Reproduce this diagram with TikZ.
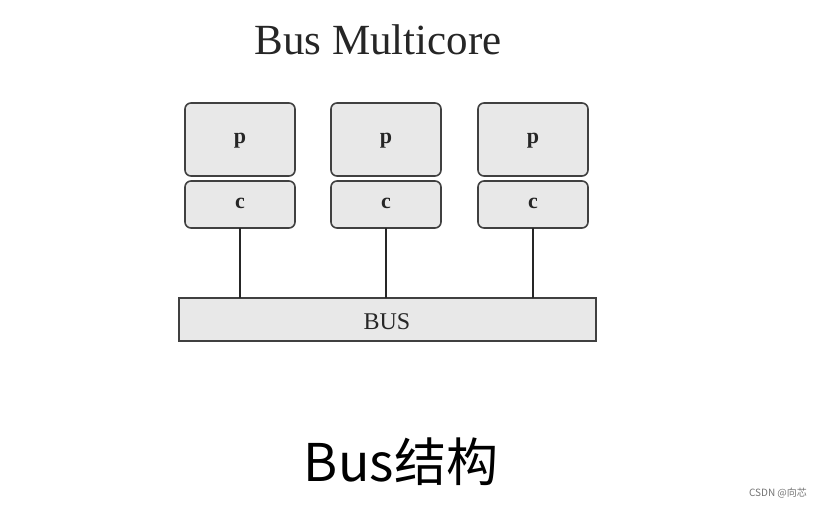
\documentclass[tikz,border=0pt]{standalone}
\usepackage{fontspec}
\setmainfont{Liberation Serif}
\newfontfamily\cjk{Noto Sans CJK SC}
\begin{document}
\begin{tikzpicture}[x=1pt,y=-1pt,
  unit/.style={draw=black!75,line width=1.6pt,fill=black!9,rounded corners=6pt},
  bar/.style={draw=black!75,line width=1.6pt,fill=black!9},
  lbl/.style={font=\bfseries\fontsize{22}{24}\selectfont,text=black!85},
  wire/.style={draw=black!85,line width=1.4pt}]
\useasboundingbox (0,0) rectangle (823,509);
\node[font=\fontsize{43}{46}\selectfont,text=black!85] (title) at (378,40) {Bus Multicore};
\foreach \i/\x in {1/240,2/386,3/533}{
  \draw[unit] (\x-55,103) rectangle (\x+55,176);
  \node[lbl] (p\i) at (\x,141) {p};
  \draw[unit] (\x-55,181) rectangle (\x+55,228);
  \node[lbl] (c\i) at (\x,203) {c};
  \coordinate (cb\i) at (\x,228);
  \coordinate (bt\i) at (\x,298);
}
\draw[bar] (179,298) rectangle (596,341);
\node[lbl,font=\fontsize{24}{26}\selectfont] (bus) at (387,322) {BUS};
\foreach \i in {1,2,3}{\draw[wire] (cb\i) -- (bt\i);}
\node[font=\cjk\fontsize{52}{56}\selectfont] (cap) at (401,462) {Bus结构};
\node[font=\cjk\fontsize{10}{12}\selectfont,text=black!55] (wm) at (778,493) {CSDN @向芯};
\end{tikzpicture}
\end{document}
